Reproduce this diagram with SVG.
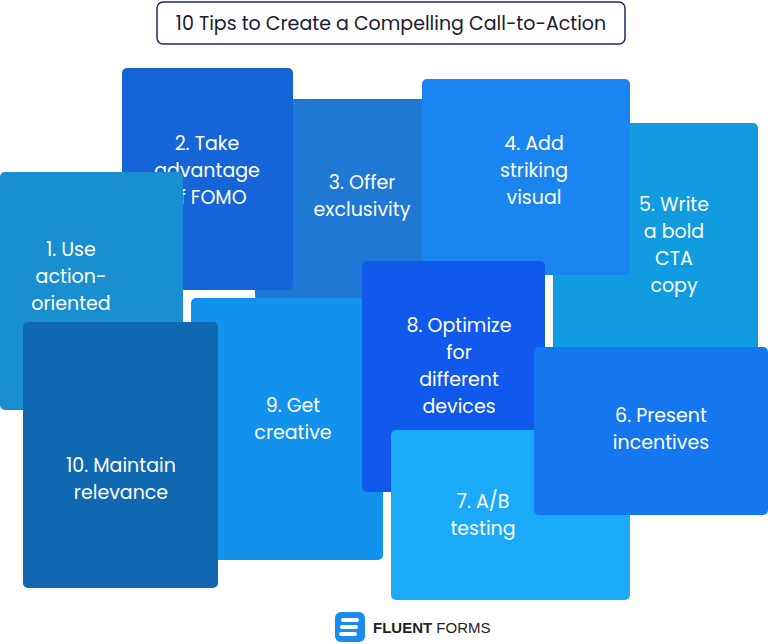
<svg xmlns="http://www.w3.org/2000/svg" width="768" height="644" viewBox="0 0 768 644">
<style>
.t{font-family:Poppins,"Open Sans","Liberation Sans",sans-serif;font-size:19px;fill:#fff;text-anchor:middle}
rect.b{rx:5px}
</style>
<rect width="768" height="644" fill="#fff"/>
<g id="title"><rect x="157" y="2" width="468" height="42" rx="6" fill="#fff" stroke="#1c2a6b" stroke-width="1.5"/>
<text x="391" y="30" font-family="Poppins,'Open Sans','Liberation Sans',sans-serif" font-size="19" fill="#1a1a2e" text-anchor="middle">10 Tips to Create a Compelling Call-to-Action</text></g>
<g id="n3"><rect class="b" x="255" y="99" width="198" height="202" fill="#1e78d4"/><text class="t" x="362" y="189">3. Offer</text><text class="t" x="362" y="216">exclusivity</text></g>
<g id="n5"><rect class="b" x="553" y="123" width="205" height="237" fill="#119be0"/><text class="t" x="674" y="211">5. Write</text><text class="t" x="674" y="238">a bold</text><text class="t" x="674" y="265">CTA</text><text class="t" x="674" y="292">copy</text></g>
<g id="n4"><rect class="b" x="422" y="79" width="208" height="196" fill="#1a85f0"/><text class="t" x="534" y="150">4. Add</text><text class="t" x="534" y="177">striking</text><text class="t" x="534" y="204">visual</text></g>
<g id="n2"><rect class="b" x="122" y="68" width="171" height="222" fill="#1565d8"/><text class="t" x="207" y="150">2. Take</text><text class="t" x="207" y="177">advantage</text><text class="t" x="207" y="204">of FOMO</text></g>
<g id="n1"><rect class="b" x="0" y="172" width="183" height="238" fill="#1a8fd0"/><text class="t" x="71" y="256">1. Use</text><text class="t" x="71" y="283">action-</text><text class="t" x="71" y="310">oriented</text><text class="t" x="71" y="337">language</text></g>
<g id="n9"><rect class="b" x="191" y="298" width="192" height="262" fill="#1292ec"/><text class="t" x="293" y="412">9. Get</text><text class="t" x="293" y="439">creative</text></g>
<g id="n10"><rect class="b" x="23" y="322" width="195" height="266" fill="#1068b0"/><text class="t" x="121" y="472">10. Maintain</text><text class="t" x="121" y="499">relevance</text></g>
<g id="n8"><rect class="b" x="362" y="261" width="183" height="231" fill="#1158ec"/><text class="t" x="459" y="332">8. Optimize</text><text class="t" x="459" y="359">for</text><text class="t" x="459" y="386">different</text><text class="t" x="459" y="413">devices</text></g>
<g id="n7"><rect class="b" x="391" y="430" width="239" height="170" fill="#1aaaf8"/><text class="t" x="483" y="508">7. A/B</text><text class="t" x="483" y="535">testing</text></g>
<g id="n6"><rect class="b" x="534" y="347" width="234" height="168" fill="#1577f0"/><text class="t" x="661" y="422">6. Present</text><text class="t" x="661" y="449">incentives</text></g>
<g id="connectors"/>
<g id="logo"><rect x="335" y="612" width="30" height="30" rx="6" fill="#1a8cf0"/>
<path d="M343 620h14M342 627h14M341 634h14" stroke="#fff" stroke-width="4" stroke-linecap="round"/>
<text x="373" y="633" font-family="'Liberation Sans',sans-serif" font-size="15" fill="#222"><tspan font-weight="bold">FLUENT</tspan> FORMS</text></g>
</svg>
